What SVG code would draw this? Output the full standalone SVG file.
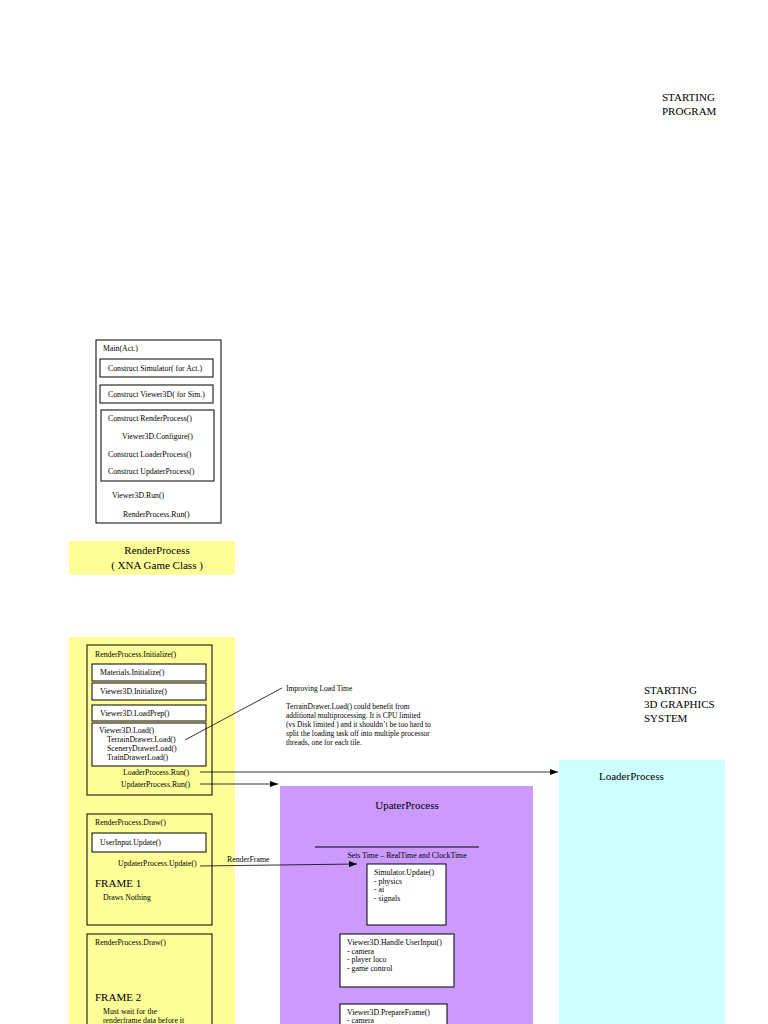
<svg xmlns="http://www.w3.org/2000/svg" width="768" height="1024" viewBox="0 0 768 1024">
<style>
.s{font-family:"Liberation Serif","Times New Roman",serif;font-size:7.8px;fill:#000}
.n{font-family:"Liberation Serif","Times New Roman",serif;font-size:7.5px;fill:#000}
.m{font-family:"Liberation Serif","Times New Roman",serif;font-size:11px;fill:#000}
.b{fill:#fff;stroke:#000;stroke-width:1}
.o{fill:none;stroke:#000;stroke-width:1}
.e{fill:none;stroke:#000;stroke-width:0.8}
</style>
<defs>
<marker id="ah" markerWidth="8" markerHeight="6" refX="8" refY="3" orient="auto" markerUnits="userSpaceOnUse">
<path d="M0,0 L8,3 L0,6 Z" fill="#000"/>
</marker>
</defs>
<rect width="768" height="1024" fill="#fff"/>

<g id="starting-program">
<text class="m" x="662" y="101">STARTING</text>
<text class="m" x="662" y="115">PROGRAM</text>
</g>

<g id="main">
<rect class="b" x="96" y="340" width="125" height="183"/>
<text class="s" x="103" y="351">Main(Act.)</text>
<rect class="b" x="100" y="359" width="113" height="18"/>
<text class="s" x="108" y="371">Construct Simulator( for Act.)</text>
<rect class="b" x="100" y="385" width="113" height="18"/>
<text class="s" x="108" y="397">Construct Viewer3D( for Sim.)</text>
<rect class="b" x="101" y="410" width="113" height="71"/>
<text class="s" x="108" y="421">Construct RenderProcess()</text>
<text class="s" x="122" y="439">Viewer3D.Configure()</text>
<text class="s" x="108" y="457">Construct LoaderProcess()</text>
<text class="s" x="108" y="474">Construct UpdaterProcess()</text>
<text class="s" x="112" y="498">Viewer3D.Run()</text>
<text class="s" x="123" y="517">RenderProcess.Run()</text>
</g>

<g id="renderprocess-label">
<rect x="69" y="541" width="166" height="34" fill="#FFFF99"/>
<text class="m" x="157" y="554" text-anchor="middle">RenderProcess</text>
<text class="m" x="157" y="569" text-anchor="middle">( XNA Game Class )</text>
</g>

<g id="renderprocess">
<rect x="69" y="637" width="166" height="387" fill="#FFFF99"/>
</g>

<g id="initialize">
<rect class="o" x="87" y="645" width="125" height="150"/>
<text class="s" x="95" y="657">RenderProcess.Initialize()</text>
<rect class="b" x="92" y="664" width="114" height="17"/>
<text class="s" x="100" y="675">Materials.Initialize()</text>
<rect class="b" x="92" y="683" width="114" height="17"/>
<text class="s" x="100" y="694">Viewer3D.Initialize()</text>
<rect class="b" x="92" y="705" width="114" height="16"/>
<text class="s" x="100" y="716">Viewer3D.LoadPrep()</text>
<rect class="b" x="92" y="723" width="114" height="43"/>
<text class="s" x="99" y="733">Viewer3D.Load()</text>
<text class="s" x="107" y="742">TerrainDrawer.Load()</text>
<text class="s" x="107" y="751">SceneryDrawerLoad()</text>
<text class="s" x="107" y="760">TrainDrawerLoad()</text>
<text class="s" x="123" y="775">LoaderProcess.Run()</text>
<text class="s" x="121" y="787">UpdaterProcess.Run()</text>
</g>

<g id="frame1">
<rect class="o" x="87" y="814" width="125" height="111"/>
<text class="s" x="95" y="825">RenderProcess.Draw()</text>
<rect class="b" x="92" y="833" width="114" height="19"/>
<text class="s" x="100" y="845">UserInput.Update()</text>
<text class="s" x="118" y="866">UpdaterProcess.Update()</text>
<text class="m" x="95" y="887">FRAME 1</text>
<text class="s" x="103" y="900">Draws Nothing</text>
</g>

<g id="frame2">
<rect class="o" x="87" y="934" width="125" height="100"/>
<text class="s" x="95" y="945">RenderProcess.Draw()</text>
<text class="m" x="95" y="1001">FRAME 2</text>
<text class="s" x="103" y="1014">Must wait for the</text>
<text class="s" x="103" y="1023">renderframe data before it</text>
</g>

<g id="note">
<text class="n" x="286" y="691">Improving Load Time</text>
<text class="n" x="286" y="709">TerrainDrawer.Load() could benefit from</text>
<text class="n" x="286" y="718">additional multiprocessing.  It is CPU limited</text>
<text class="n" x="286" y="727">(vs Disk limited ) and it shouldn’t be too hard to</text>
<text class="n" x="286" y="736">split the loading task off into multiple processor</text>
<text class="n" x="286" y="745">threads, one for each tile.</text>
</g>

<g id="starting-3d">
<text class="m" x="644" y="694">STARTING</text>
<text class="m" x="644" y="708">3D GRAPHICS</text>
<text class="m" x="644" y="722">SYSTEM</text>
</g>

<g id="loaderprocess">
<rect x="559" y="760" width="166" height="264" fill="#CCFFFF"/>
<text class="m" x="599" y="780">LoaderProcess</text>
</g>

<g id="updaterprocess">
<rect x="280" y="786" width="253" height="238" fill="#CC99FF"/>
<text class="m" x="407" y="809" text-anchor="middle">UpaterProcess</text>
<line x1="315" y1="847" x2="479" y2="847" stroke="#000" stroke-width="1"/>
<text class="s" x="407" y="858" text-anchor="middle">Sets Time – RealTime and ClockTime</text>
<rect class="b" x="367" y="864" width="79" height="61"/>
<text class="s" x="374" y="875">Simulator.Update()</text>
<text class="s" x="374" y="884">- physics</text>
<text class="s" x="374" y="892">- ai</text>
<text class="s" x="374" y="901">- signals</text>
<rect class="b" x="340" y="934" width="114" height="53"/>
<text class="s" x="347" y="945">Viewer3D.Handle UserInput()</text>
<text class="s" x="347" y="954">- camera</text>
<text class="s" x="347" y="962">- player loco</text>
<text class="s" x="347" y="971">- game control</text>
<rect class="b" x="340" y="1004" width="107" height="30"/>
<text class="s" x="347" y="1015">Viewer3D.PrepareFrame()</text>
<text class="s" x="347" y="1023">- camera</text>
</g>

<g id="connectors">
<line class="e" x1="185" y1="740" x2="282" y2="688"/>
<line class="e" x1="200" y1="772" x2="558" y2="772" marker-end="url(#ah)"/>
<line class="e" x1="200" y1="784" x2="278" y2="784" marker-end="url(#ah)"/>
<line class="e" x1="200" y1="866" x2="357" y2="864" marker-end="url(#ah)"/>
<text class="s" x="227" y="862">RenderFrame</text>
</g>
</svg>
